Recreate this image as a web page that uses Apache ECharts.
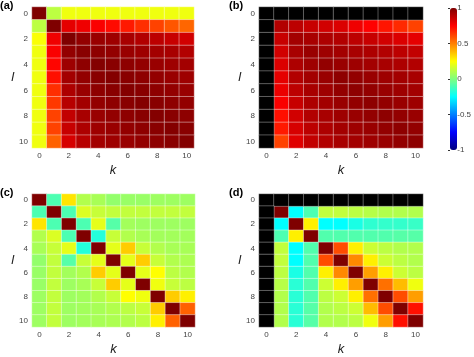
<!DOCTYPE html>
<html><head><meta charset="utf-8">
<script src="https://cdn.jsdelivr.net/npm/echarts@6/dist/echarts.min.js"></script>
<style>html,body{margin:0;padding:0;background:#fff}#c{width:474px;height:357px}</style>
</head><body><div id="c"></div>
<script>
const kCats = ['0','1','2','3','4','5','6','7','8','9','10'];
const lCats = ['0','1','2','3','4','5','6','7','8','9','10'];
const panelLabels = ['(a)','(b)','(c)','(d)'];
const colorbarTicks = [-1, -0.5, 0, 0.5, 1];
const jetColors = ['#00007F','#0000FF','#007FFF','#00FFFF','#7FFF7F','#FFFF00','#FF7F00','#FF0000','#7F0000'];

// rows: l = 0..10, columns: k = 0..10 ; null = undefined (black)
const panelA = [
  [1.00, 0.12, 0.22, 0.22, 0.22, 0.22, 0.22, 0.22, 0.22, 0.22, 0.22],
  [0.12, 1.00, 0.80, 0.78, 0.76, 0.73, 0.70, 0.66, 0.62, 0.58, 0.55],
  [0.24, 0.78, 1.00, 0.96, 0.95, 0.94, 0.92, 0.90, 0.88, 0.86, 0.84],
  [0.22, 0.76, 0.96, 0.98, 0.97, 0.96, 0.95, 0.94, 0.93, 0.92, 0.90],
  [0.22, 0.74, 0.94, 0.97, 0.99, 0.98, 0.97, 0.96, 0.95, 0.94, 0.93],
  [0.22, 0.72, 0.93, 0.96, 0.98, 0.99, 0.98, 0.97, 0.96, 0.95, 0.94],
  [0.22, 0.66, 0.91, 0.95, 0.97, 0.98, 0.99, 0.98, 0.97, 0.96, 0.95],
  [0.22, 0.64, 0.89, 0.93, 0.96, 0.97, 0.98, 0.99, 0.98, 0.97, 0.96],
  [0.22, 0.62, 0.87, 0.92, 0.95, 0.96, 0.97, 0.98, 0.99, 0.98, 0.97],
  [0.22, 0.62, 0.86, 0.91, 0.94, 0.95, 0.96, 0.97, 0.98, 0.99, 0.98],
  [0.22, 0.56, 0.83, 0.89, 0.93, 0.94, 0.95, 0.96, 0.97, 0.98, 0.99]
];
const panelB = [
  [null, null, null, null, null, null, null, null, null, null, null],
  [null, 0.90, 0.88, 0.86, 0.84, 0.82, 0.78, 0.75, 0.71, 0.67, 0.62],
  [null, 0.86, 0.93, 0.92, 0.91, 0.90, 0.88, 0.86, 0.84, 0.82, 0.80],
  [null, 0.84, 0.92, 0.95, 0.94, 0.93, 0.92, 0.91, 0.90, 0.88, 0.87],
  [null, 0.82, 0.91, 0.94, 0.96, 0.95, 0.94, 0.93, 0.92, 0.91, 0.90],
  [null, 0.80, 0.90, 0.93, 0.95, 0.97, 0.96, 0.95, 0.94, 0.93, 0.92],
  [null, 0.79, 0.88, 0.92, 0.94, 0.96, 0.97, 0.96, 0.95, 0.94, 0.93],
  [null, 0.76, 0.86, 0.91, 0.93, 0.95, 0.96, 0.97, 0.96, 0.95, 0.94],
  [null, 0.72, 0.84, 0.90, 0.92, 0.94, 0.95, 0.96, 0.97, 0.96, 0.95],
  [null, 0.70, 0.83, 0.88, 0.91, 0.93, 0.94, 0.95, 0.96, 0.97, 0.96],
  [null, 0.62, 0.81, 0.87, 0.90, 0.92, 0.93, 0.94, 0.95, 0.96, 0.97]
];
const panelC = [
  [1.00, -0.10, 0.30, 0.10, 0.08, 0.04, 0.05, 0.05, 0.06, 0.06, 0.06],
  [-0.10, 1.00, -0.10, 0.18, 0.14, 0.13, 0.13, 0.13, 0.13, 0.13, 0.13],
  [0.30, -0.10, 1.00, -0.10, 0.20, -0.08, 0.07, 0.06, 0.06, 0.06, 0.06],
  [0.10, 0.18, -0.10, 1.00, -0.18, 0.14, 0.10, 0.08, 0.07, 0.07, 0.07],
  [0.08, 0.14, 0.20, -0.18, 1.00, 0.20, 0.35, 0.14, 0.10, 0.08, 0.08],
  [0.04, 0.13, -0.08, 0.14, 0.20, 1.00, 0.20, 0.35, 0.14, 0.10, 0.09],
  [0.05, 0.13, 0.07, 0.10, 0.35, 0.20, 1.00, 0.20, 0.25, 0.12, 0.10],
  [0.05, 0.13, 0.06, 0.08, 0.14, 0.35, 0.20, 1.00, 0.22, 0.14, 0.12],
  [0.06, 0.13, 0.06, 0.07, 0.10, 0.14, 0.25, 0.22, 1.00, 0.35, 0.28],
  [0.06, 0.13, 0.06, 0.07, 0.08, 0.10, 0.12, 0.14, 0.35, 1.00, 0.56],
  [0.06, 0.13, 0.06, 0.07, 0.08, 0.09, 0.10, 0.12, 0.28, 0.56, 1.00]
];
const panelD = [
  [null, null, null, null, null, null, null, null, null, null, null],
  [null, 1.00, -0.25, -0.10, 0.13, 0.13, 0.12, 0.11, 0.10, 0.10, 0.10],
  [null, -0.25, 1.00, 0.28, -0.25, -0.25, -0.20, -0.16, -0.15, -0.15, -0.14],
  [null, -0.10, 0.28, 1.00, -0.09, -0.09, -0.09, -0.09, -0.09, -0.08, -0.08],
  [null, 0.13, -0.25, -0.09, 1.00, 0.60, 0.28, 0.15, 0.12, 0.10, 0.10],
  [null, 0.13, -0.25, -0.09, 0.60, 1.00, 0.48, 0.28, 0.15, 0.12, 0.10],
  [null, 0.12, -0.20, -0.09, 0.28, 0.48, 1.00, 0.44, 0.28, 0.15, 0.12],
  [null, 0.11, -0.17, -0.09, 0.15, 0.28, 0.44, 1.00, 0.53, 0.38, 0.22],
  [null, 0.10, -0.17, -0.09, 0.12, 0.15, 0.28, 0.53, 1.00, 0.60, 0.44],
  [null, 0.10, -0.17, -0.08, 0.10, 0.12, 0.15, 0.38, 0.60, 1.00, 0.72],
  [null, 0.10, -0.17, -0.08, 0.10, 0.10, 0.12, 0.22, 0.44, 0.72, 1.00]
];

const panels = [panelA, panelB, panelC, panelD];
const gridBoxes = [
  {left: 32, top: 7, width: 162, height: 141},
  {left: 259, top: 7, width: 164, height: 141},
  {left: 32, top: 194, width: 163, height: 142},
  {left: 259, top: 194, width: 164, height: 142}
];
const labelPos = [[0, 0], [229, 0], [0, 187], [229, 187]];
const FONT = 'Liberation Sans, Arial, Helvetica, sans-serif';

const grid = [], xAxis = [], yAxis = [], series = [], title = [];
const coloredIdx = [];
panels.forEach((p, i) => {
  grid.push(Object.assign({containLabel: false}, gridBoxes[i]));
  xAxis.push({
    type: 'category', gridIndex: i, data: kCats,
    axisLine: {show: false}, axisTick: {show: false}, splitLine: {show: false},
    axisLabel: {interval: 1, fontSize: 8, color: '#444', margin: 4, fontFamily: FONT},
    name: 'k', nameLocation: 'middle', nameGap: 16,
    nameTextStyle: {fontStyle: 'italic', fontSize: 13, color: '#222', fontFamily: FONT}
  });
  yAxis.push({
    type: 'category', gridIndex: i, data: lCats, inverse: true,
    axisLine: {show: false}, axisTick: {show: false}, splitLine: {show: false},
    axisLabel: {interval: 1, fontSize: 8, color: '#444', margin: 4, fontFamily: FONT},
    name: 'l', nameLocation: 'middle', nameGap: 16, nameRotate: 0,
    nameTextStyle: {fontStyle: 'italic', fontSize: 13, color: '#222', fontFamily: FONT}
  });
  const vals = [], blacks = [];
  p.forEach((row, l) => row.forEach((v, k) => {
    if (v === null) blacks.push([k, l, 0]); else vals.push([k, l, v]);
  }));
  coloredIdx.push(series.length);
  series.push({
    type: 'heatmap', xAxisIndex: i, yAxisIndex: i, data: vals,
    itemStyle: {borderColor: 'rgba(255,255,255,0.5)', borderWidth: 0.8},
    emphasis: {disabled: true}
  });
  if (blacks.length) {
    series.push({
      type: 'heatmap', xAxisIndex: i, yAxisIndex: i, data: blacks,
      itemStyle: {color: '#000', borderColor: 'rgba(255,255,255,0.4)', borderWidth: 0.8},
      emphasis: {disabled: true}
    });
  }
  title.push({
    text: panelLabels[i], left: labelPos[i][0], top: labelPos[i][1], padding: 0,
    textStyle: {fontSize: 11, fontWeight: 'bold', color: '#000', fontFamily: FONT}
  });
});

// colorbar axis
grid.push({left: 450, top: 8, width: 7, height: 142});
xAxis.push({type: 'value', gridIndex: 4, show: false, min: 0, max: 1});
yAxis.push({
  type: 'value', gridIndex: 4, position: 'right',
  min: colorbarTicks[0], max: colorbarTicks[colorbarTicks.length - 1], interval: 0.5,
  axisLine: {show: false}, splitLine: {show: false},
  axisTick: {show: true, inside: true, length: 2, lineStyle: {color: '#333', width: 1}},
  axisLabel: {fontSize: 8, color: '#444', margin: 3, fontFamily: FONT}
});

const option = {
  animation: false,
  backgroundColor: '#fff',
  title, grid, xAxis, yAxis, series,
  visualMap: {
    type: 'continuous', min: -1, max: 1, seriesIndex: coloredIdx,
    orient: 'vertical', left: 450, top: 8, itemWidth: 7, itemHeight: 142,
    padding: 0, calculable: false, text: null, showLabel: false,
    inRange: {color: jetColors}, borderWidth: 0, hoverLink: false
  }
};
const chart = echarts.init(document.getElementById('c'), null, {renderer: 'canvas'});
chart.setOption(option);
</script></body></html>
